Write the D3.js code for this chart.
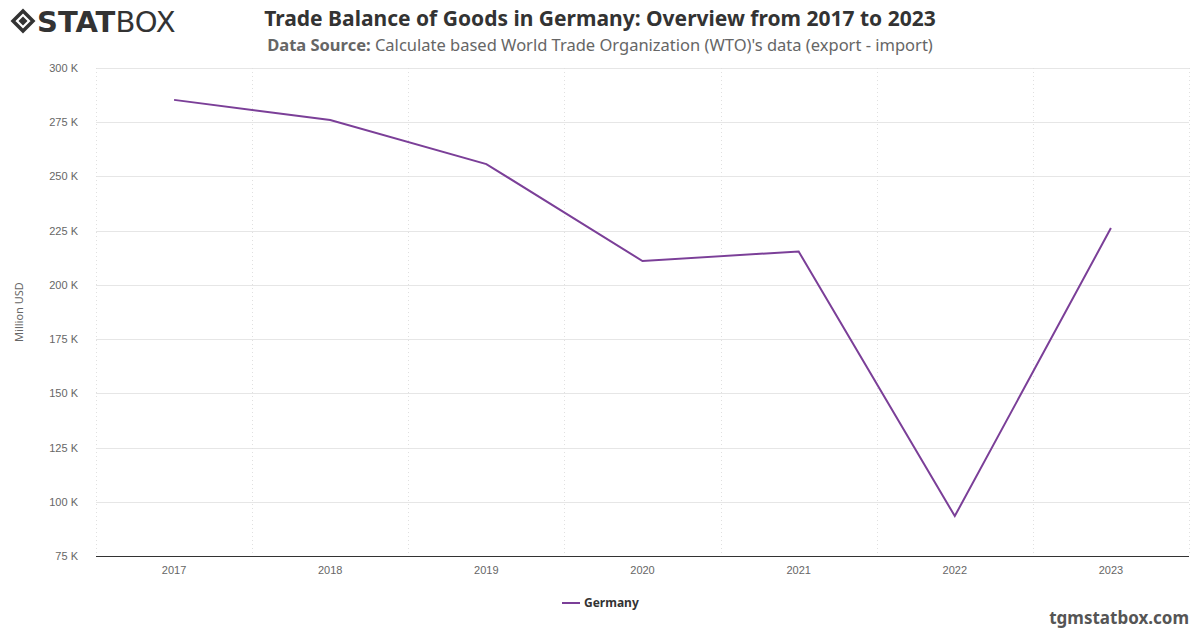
<!DOCTYPE html>
<html>
<meta charset=utf-8>
<head>
<script src="https://d3js.org/d3.v7.min.js"></script>
<style>
  body { margin: 0; background: #fff; font-family: "Noto Sans", "Open Sans", sans-serif; }
  .tick text { font-size: 11px; fill: #666; }
</style>
</head>
<body>
<script>
// data
var years = ["2017", "2018", "2019", "2020", "2021", "2022", "2023"];
var germany = [285300, 276000, 255700, 211000, 215400, 93400, 226200];
var yTicks = [75000, 100000, 125000, 150000, 175000, 200000, 225000, 250000, 275000, 300000];

var W = 1200, H = 630;
// plot box (note: "top" is taken by window.top, so prefix these)
var pLeft = 96, pRight = 1189, pTop = 68, pBottom = 556;

var svg = d3.select("body").append("svg")
    .attr("width", W).attr("height", H);

var x = d3.scaleBand().domain(years).range([pLeft, pRight]);
var y = d3.scaleLinear().domain([75000, 300000]).range([pBottom, pTop]);

// horizontal grid
svg.append("g").selectAll("line").data(yTicks).join("line")
    .attr("x1", pLeft).attr("x2", pRight)
    .attr("y1", function(d){ return Math.round(y(d)) + 0.5; })
    .attr("y2", function(d){ return Math.round(y(d)) + 0.5; })
    .attr("stroke", "#e6e6e6");

// vertical dotted grid at band edges
var edges = years.map(function(d){ return x(d); }).concat([pRight]);
svg.append("g").selectAll("line").data(edges).join("line")
    .attr("x1", function(d){ return Math.round(d) + 0.5; })
    .attr("x2", function(d){ return Math.round(d) + 0.5; })
    .attr("y1", pTop).attr("y2", pBottom)
    .attr("stroke", "#e0e0e0")
    .attr("stroke-dasharray", "1,3");

// y axis
var yAxis = svg.append("g")
    .attr("transform", "translate(" + (pLeft - 15) + ",0)")
    .call(d3.axisLeft(y).tickValues(yTicks).tickSize(0)
      .tickFormat(function(d){ return (d / 1000) + " K"; }));
yAxis.select(".domain").remove();

// x axis
var xAxis = svg.append("g")
    .attr("transform", "translate(0," + pBottom + ")")
    .call(d3.axisBottom(x).tickSize(0).tickPadding(10));
xAxis.select(".domain").remove();
svg.append("line")
    .attr("x1", pLeft).attr("x2", pRight)
    .attr("y1", pBottom + 0.5).attr("y2", pBottom + 0.5)
    .attr("stroke", "#333");

// y title
svg.append("text")
    .attr("transform", "translate(23," + ((pTop + pBottom) / 2) + ") rotate(-90)")
    .attr("text-anchor", "middle")
    .style("font-size", "11px").style("fill", "#666")
    .text("Million USD");

// line
var lineGen = d3.line()
    .x(function(d, i){ return x(years[i]) + x.bandwidth() / 2; })
    .y(function(d){ return y(d); });

svg.append("path")
    .datum(germany)
    .attr("d", lineGen)
    .attr("fill", "none")
    .attr("stroke", "#7b3f98")
    .attr("stroke-width", 2);

// titles
svg.append("text")
    .attr("x", 600).attr("y", 26)
    .attr("text-anchor", "middle")
    .style("font-size", "21px").style("font-weight", "bold").style("fill", "#333")
    .text("Trade Balance of Goods in Germany: Overview from 2017 to 2023");

var sub = svg.append("text")
    .attr("x", 600).attr("y", 51)
    .attr("text-anchor", "middle")
    .style("font-size", "16.5px").style("fill", "#666");
sub.append("tspan").style("font-weight", "bold").text("Data Source: ");
sub.append("tspan").text("Calculate based World Trade Organization (WTO)'s data (export - import)");

// logo
var logo = svg.append("g").attr("transform", "translate(23,21)");
logo.append("path")
    .attr("d", "M0,-10 L10,0 L0,10 L-10,0 Z")
    .attr("fill", "none").attr("stroke", "#333").attr("stroke-width", 3.5);
logo.append("path")
    .attr("d", "M0,-4.5 L4.5,0 L0,4.5 L-4.5,0 Z")
    .attr("fill", "#333");
var lt = svg.append("text")
    .attr("x", 37).attr("y", 32)
    .style("font-size", "29px").style("fill", "#333")
    .style("font-family", "'DejaVu Sans', sans-serif");
lt.append("tspan").style("font-weight", "900").text("STAT");
lt.append("tspan").style("font-weight", "normal").style("font-family", "'DejaVu Sans ExtraLight', 'DejaVu Sans', sans-serif").text("BOX");

// legend
svg.append("line")
    .attr("x1", 562).attr("x2", 580)
    .attr("y1", 603).attr("y2", 603)
    .attr("stroke", "#7b3f98").attr("stroke-width", 2);
svg.append("text")
    .attr("x", 584).attr("y", 607)
    .style("font-size", "12px").style("font-weight", "bold").style("fill", "#333")
    .text("Germany");

// watermark
svg.append("text")
    .attr("x", pRight).attr("y", 624)
    .attr("text-anchor", "end")
    .style("font-size", "17px").style("font-weight", "bold").style("fill", "#555")
    .text("tgmstatbox.com");
</script>
</body>
</html>
